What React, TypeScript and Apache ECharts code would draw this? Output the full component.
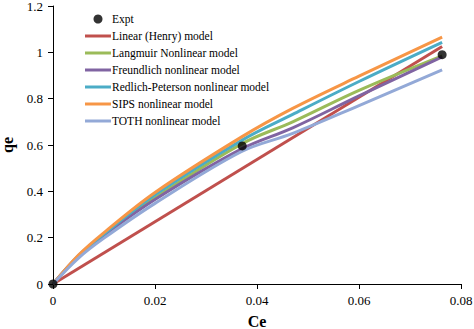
import React, { useEffect, useRef } from "react";
import * as echarts from "echarts";

const exptCe = [0, 0.0371, 0.0763];
const exptQe = [0, 0.596, 0.99];

const modelCe = [0, 0.005, 0.01, 0.02, 0.037, 0.047, 0.06, 0.0763];
const linearCe = [0, 0.0763];
const linearQe = [0, 1.025];
const langmuirQe = [0, 0.118, 0.21, 0.372, 0.605, 0.7, 0.836, 0.985];
const freundlichQe = [0, 0.122, 0.21, 0.365, 0.583, 0.674, 0.812, 0.98];
const redlichQe = [0, 0.122, 0.216, 0.385, 0.62, 0.732, 0.874, 1.043];
const sipsQe = [0, 0.125, 0.222, 0.395, 0.635, 0.758, 0.897, 1.066];
const tothQe = [0, 0.112, 0.198, 0.348, 0.572, 0.65, 0.77, 0.924];

const xTicks = [0, 0.02, 0.04, 0.06, 0.08];
const yTicks = [0, 0.2, 0.4, 0.6, 0.8, 1, 1.2];

const seriesNames = [
  "Expt",
  "Linear (Henry) model",
  "Langmuir Nonlinear model",
  "Freundlich nonlinear model",
  "Redlich-Peterson nonlinear model",
  "SIPS nonlinear model",
  "TOTH nonlinear model",
];

const colors = ["#000000", "#C0504D", "#9BBB59", "#8064A2", "#4BACC6", "#F79646", "#93A9D7"];

const zip = (xs: number[], ys: number[]) => xs.map((x, i) => [x, ys[i]]);

export default function App() {
  const ref = useRef<HTMLDivElement>(null);
  useEffect(() => {
    if (!ref.current) return;
    const chart = echarts.init(ref.current, undefined, { renderer: "svg" });
    const font = "Liberation Serif";
    const lineSeries = (idx: number, xs: number[], ys: number[], smooth: boolean) => ({
      name: seriesNames[idx],
      type: "line",
      data: zip(xs, ys),
      smooth: smooth ? 0.35 : false,
      symbol: "none",
      showSymbol: false,
      lineStyle: { width: 3, color: colors[idx] },
      itemStyle: { color: colors[idx] },
      z: 2,
    });
    const axisLabel = (ticks: number[]) => ({
      fontFamily: font,
      fontSize: 13,
      color: "#000",
      margin: 10,
      formatter: (v: number) => {
        const t = ticks.find((k) => Math.abs(k - v) < 1e-9);
        return t === undefined ? "" : String(t);
      },
    });
    chart.setOption({
      animation: false,
      textStyle: { fontFamily: font },
      grid: { left: 53, right: 13, top: 6, bottom: 45, containLabel: false, outerBoundsMode: "none" },
      legend: {
        orient: "vertical",
        left: 80,
        top: 8,
        itemWidth: 26,
        itemHeight: 9,
        itemGap: 5,
        textStyle: { fontFamily: font, fontSize: 11.5, color: "#000", padding: [0, 0, 0, -4] },
        data: seriesNames.map((n, i) =>
          i === 0 ? { name: n, icon: "circle" } : { name: n, icon: "path://M0,0H26V3H0Z" }
        ),
      },
      xAxis: {
        type: "value",
        min: 0,
        max: 0.08,
        interval: 0.02,
        name: "Ce",
        nameLocation: "middle",
        nameGap: 29,
        nameTextStyle: { fontFamily: font, fontSize: 16, fontWeight: "bold", color: "#000" },
        axisLine: { lineStyle: { color: "#000", width: 1 } },
        axisTick: { show: true, length: 5, lineStyle: { color: "#000" } },
        splitLine: { show: false },
        axisLabel: axisLabel(xTicks),
      },
      yAxis: {
        type: "value",
        min: 0,
        max: 1.2,
        interval: 0.2,
        name: "qe",
        nameLocation: "middle",
        nameGap: 36,
        nameTextStyle: { fontFamily: font, fontSize: 16, fontWeight: "bold", color: "#000" },
        axisLine: { show: true, lineStyle: { color: "#000", width: 1 } },
        axisTick: { show: true, length: 5, lineStyle: { color: "#000" } },
        splitLine: { show: false },
        axisLabel: axisLabel(yTicks),
      },
      series: [
        {
          name: seriesNames[0],
          type: "scatter",
          data: zip(exptCe, exptQe),
          symbol: "circle",
          symbolSize: 9,
          itemStyle: { color: "#000" },
          z: 5,
        },
        lineSeries(1, linearCe, linearQe, false),
        lineSeries(2, modelCe, langmuirQe, true),
        lineSeries(3, modelCe, freundlichQe, true),
        lineSeries(4, modelCe, redlichQe, true),
        lineSeries(5, modelCe, sipsQe, true),
        lineSeries(6, modelCe, tothQe, true),
      ],
    });
    return () => chart.dispose();
  }, []);
  return (
    <div
      ref={ref}
      style={{ position: "fixed", left: 0, top: 0, width: 474, height: 329, background: "#fff" }}
    />
  );
}
